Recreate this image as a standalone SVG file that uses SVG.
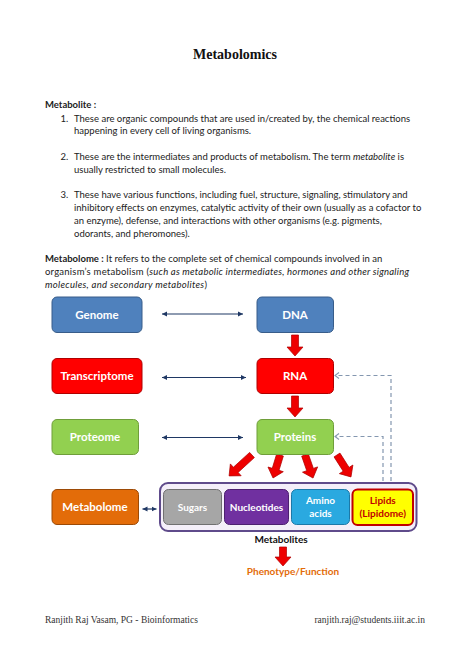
<svg xmlns="http://www.w3.org/2000/svg" width="474" height="670" viewBox="0 0 474 670">
<style>
.body{font-family:Lato,"Open Sans",sans-serif;font-size:9.5px;fill:#222}
.b{font-weight:bold}
.i{font-style:italic}
.title{font-family:"Liberation Serif",serif;font-size:14px;font-weight:bold;fill:#111}
.foot{font-family:"Liberation Serif",serif;font-size:9.5px;fill:#333}
.nt{font-family:Lato,"Open Sans",sans-serif;font-weight:bold;font-size:11.5px;fill:#fff;text-anchor:middle}
.st{font-family:Lato,"Open Sans",sans-serif;font-weight:bold;font-size:10px;fill:#fff;text-anchor:middle}
.dbl{stroke:#1f3864;stroke-width:1.2;fill:none}
.dash{stroke:#8497b0;stroke-width:1.2;stroke-dasharray:4,3;fill:none}
.red{fill:#ee0000;stroke:#b00000;stroke-width:0.7}
</style>
<defs>
<marker id="ah" markerWidth="6" markerHeight="6" refX="5" refY="3" orient="auto-start-reverse" markerUnits="userSpaceOnUse">
<path d="M0,0.5 L5,3 L0,5.5 Z" fill="#1f3864"/>
</marker>
<marker id="oh" markerWidth="8" markerHeight="8" refX="5" refY="4" orient="auto" markerUnits="userSpaceOnUse">
<path d="M1,1 L5,4 L1,7" fill="none" stroke="#8497b0" stroke-width="1.1"/>
</marker>
</defs>
<rect width="474" height="670" fill="#fff"/>

<text class="title" x="235" y="59" text-anchor="middle">Metabolomics</text>

<g id="text">
<text class="body b" x="45" y="108">Metabolite :</text>
<text class="body" x="60.5" y="122">1.</text>
<text class="body" x="74" y="122">These are organic compounds that are used in/created by, the chemical reactions</text>
<text class="body" x="74" y="134">happening in every cell of living organisms.</text>
<text class="body" x="60.5" y="160">2.</text>
<text class="body" x="74" y="160">These are the intermediates and products of metabolism. The term <tspan class="i">metabolite</tspan> is</text>
<text class="body" x="74" y="173">usually restricted to small molecules.</text>
<text class="body" x="60.5" y="198">3.</text>
<text class="body" x="74" y="198">These have various functions, including fuel, structure, signaling, stimulatory and</text>
<text class="body" x="74" y="211">inhibitory effects on enzymes, catalytic activity of their own (usually as a cofactor to</text>
<text class="body" x="74" y="224">an enzyme), defense, and interactions with other organisms (e.g. pigments,</text>
<text class="body" x="74" y="237">odorants, and pheromones).</text>
<text class="body" x="45" y="262"><tspan class="b">Metabolome :</tspan> It refers to the complete set of chemical compounds involved in an</text>
<text class="body" x="45" y="275" textLength="364" lengthAdjust="spacing">organism’s metabolism (<tspan class="i">such as metabolic intermediates, hormones and other signaling</tspan></text>
<text class="body" x="45" y="288" textLength="162" lengthAdjust="spacing"><tspan class="i">molecules, and secondary metabolites</tspan>)</text>
</g>

<g id="connectors">
<line class="dbl" x1="162" y1="314" x2="243" y2="314" marker-start="url(#ah)" marker-end="url(#ah)"/>
<line class="dbl" x1="162" y1="377.5" x2="246" y2="377.5" marker-start="url(#ah)" marker-end="url(#ah)"/>
<line class="dbl" x1="162" y1="437.5" x2="243" y2="437.5" marker-start="url(#ah)" marker-end="url(#ah)"/>
<line class="dbl" x1="142.5" y1="509" x2="156.5" y2="509" marker-start="url(#ah)" marker-end="url(#ah)"/>
<polyline class="dash" points="391,488 391,375.5 335,375.5" marker-end="url(#oh)"/>
<polyline class="dash" points="383,488 383,436.5 335,436.5" marker-end="url(#oh)"/>
<g transform="translate(295,335) rotate(90)"><path class="red" d="M0,-3.5 L12,-3.5 L12,-8 L21,0 L12,8 L12,3.5 L0,3.5 Z"/></g>
<g transform="translate(295,396) rotate(90)"><path class="red" d="M0,-3.5 L12,-3.5 L12,-8 L21,0 L12,8 L12,3.5 L0,3.5 Z"/></g>
<g transform="translate(283,547) rotate(90)"><path class="red" d="M0,-3.5 L10,-3.5 L10,-8 L19,0 L10,8 L10,3.5 L0,3.5 Z"/></g>
<g transform="translate(252,455) rotate(137.6)"><path class="red" d="M0,-3.5 L22,-3.5 L22,-8 L31,0 L22,8 L22,3.5 L0,3.5 Z"/></g>
<g transform="translate(280,455) rotate(106.9)"><path class="red" d="M0,-3.5 L15,-3.5 L15,-8 L24,0 L15,8 L15,3.5 L0,3.5 Z"/></g>
<g transform="translate(305,455) rotate(70.8)"><path class="red" d="M0,-3.5 L15.4,-3.5 L15.4,-8 L24.4,0 L15.4,8 L15.4,3.5 L0,3.5 Z"/></g>
<g transform="translate(337,455) rotate(57.5)"><path class="red" d="M0,-3.5 L17,-3.5 L17,-8 L26,0 L17,8 L17,3.5 L0,3.5 Z"/></g>
</g>

<g id="genome"><rect x="52" y="297" width="90" height="35.5" rx="5" fill="#4f81bd" stroke="#385d8a" stroke-width="1"/><text class="nt" x="97" y="319">Genome</text></g>
<g id="dna"><rect x="257" y="297" width="76.5" height="35.5" rx="5" fill="#4f81bd" stroke="#385d8a" stroke-width="1"/><text class="nt" x="295" y="319">DNA</text></g>
<g id="transcriptome"><rect x="52" y="358.5" width="90" height="35" rx="5" fill="#ff0000" stroke="#b00000" stroke-width="1"/><text class="nt" x="97" y="380">Transcriptome</text></g>
<g id="rna"><rect x="257" y="358.5" width="76.5" height="35" rx="5" fill="#ff0000" stroke="#b00000" stroke-width="1"/><text class="nt" x="295" y="380">RNA</text></g>
<g id="proteome"><rect x="52" y="419.5" width="86.5" height="35" rx="5" fill="#92d050" stroke="#6f9e3a" stroke-width="1"/><text class="nt" x="95" y="441">Proteome</text></g>
<g id="proteins"><rect x="257" y="419.5" width="76.5" height="35" rx="5" fill="#92d050" stroke="#6f9e3a" stroke-width="1"/><text class="nt" x="295" y="441">Proteins</text></g>
<g id="metabolome"><rect x="52" y="489.5" width="86.5" height="35" rx="5" fill="#e36c09" stroke="#9c4a06" stroke-width="1"/><text class="nt" x="95" y="511">Metabolome</text></g>

<g id="metabolites">
<rect x="160" y="483" width="256.5" height="48" rx="8" fill="#f4eff9" stroke="#5f4b8b" stroke-width="2"/>
<g id="sugars"><rect x="163.5" y="489.5" width="58" height="35" rx="5" fill="#a6a6a6" stroke="#707070" stroke-width="1"/><text class="st" x="192.5" y="511">Sugars</text></g>
<g id="nucleotides"><rect x="224.5" y="489.5" width="64" height="35" rx="5" fill="#7030a0" stroke="#4d2070" stroke-width="1"/><text class="st" x="256.5" y="511">Nucleotides</text></g>
<g id="amino"><rect x="291.5" y="489.5" width="58" height="35" rx="5" fill="#2aa9e0" stroke="#1c79a8" stroke-width="1"/><text class="st" x="320.5" y="504">Amino</text><text class="st" x="320.5" y="517">acids</text></g>
<g id="lipids"><rect x="352.5" y="489.5" width="60.5" height="35.5" rx="5" fill="#ffff00" stroke="#c00000" stroke-width="2"/><text class="st" x="382.7" y="504" style="fill:#c00000">Lipids</text><text class="st" x="382.7" y="517" style="fill:#c00000">(Lipidome)</text></g>
<text class="st" x="281" y="543" style="fill:#111">Metabolites</text>
</g>
<g id="phenotype"><text class="st" x="293" y="575" style="fill:#e36c09">Phenotype/Function</text></g>

<text class="foot" x="45" y="623">Ranjith Raj Vasam, PG - Bioinformatics</text>
<text class="foot" x="425" y="623" text-anchor="end">ranjith.raj@students.iiit.ac.in</text>
</svg>
